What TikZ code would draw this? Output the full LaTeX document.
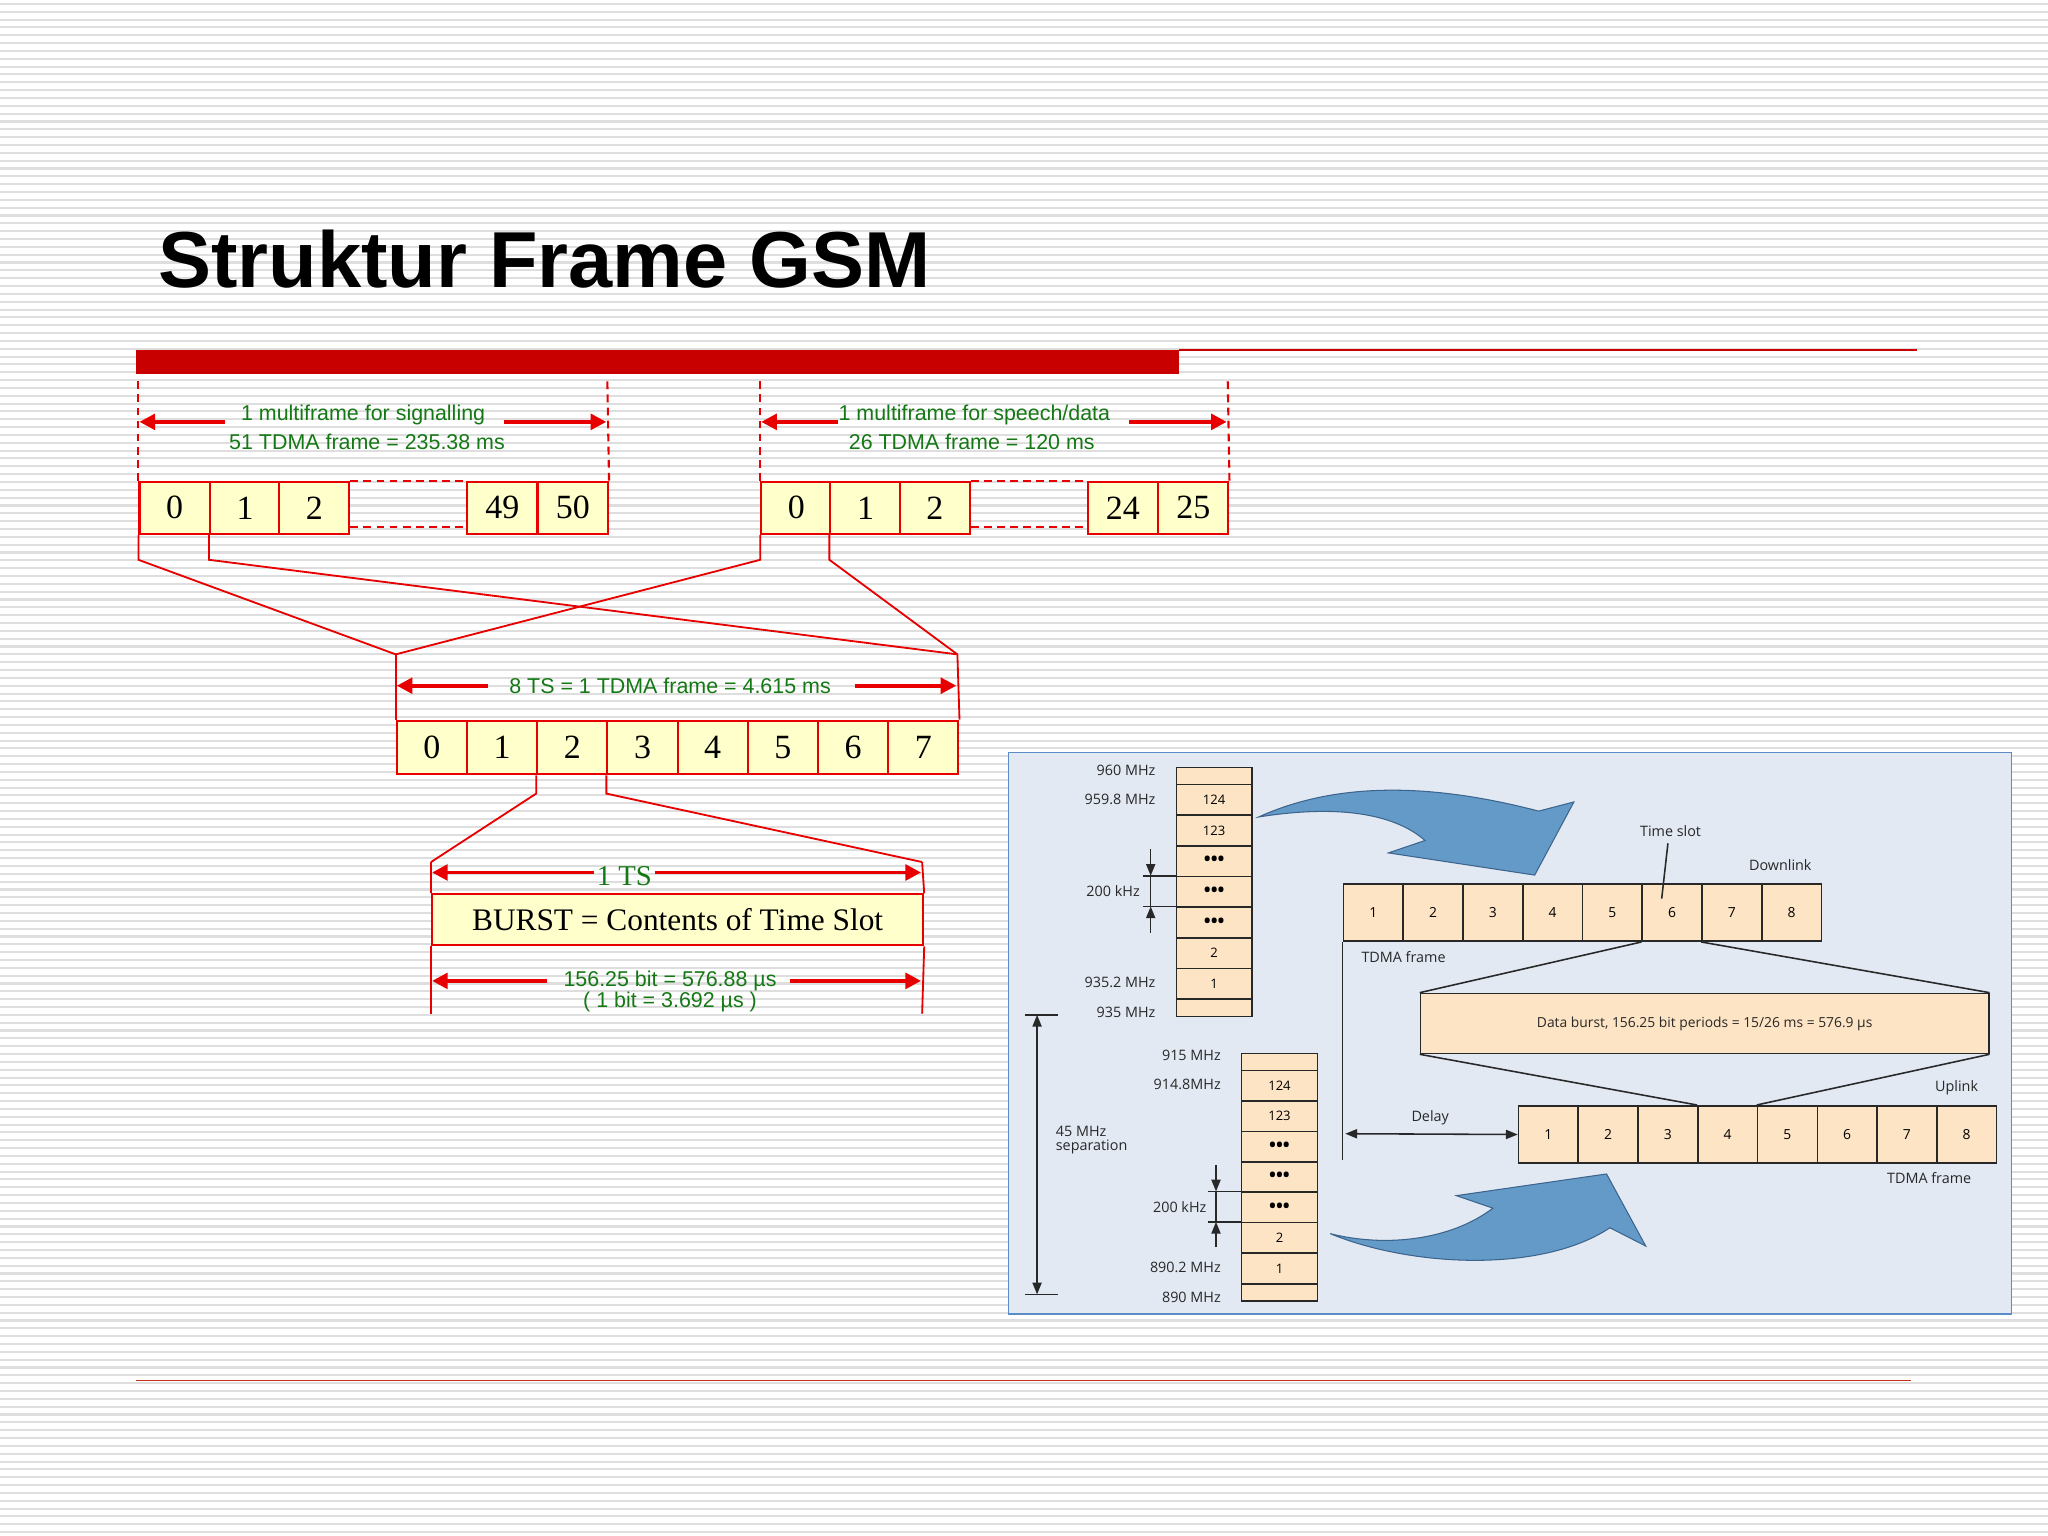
\documentclass[tikz,border=0pt]{standalone}
\usepackage{fontspec}
\setmainfont{Liberation Sans}
\newfontfamily\tnr{Liberation Serif}
\newfontfamily\pan{Open Sans}
\usetikzlibrary{arrows.meta}
\definecolor{gsmred}{RGB}{232,0,0}
\definecolor{barred}{RGB}{200,0,0}
\definecolor{cellyel}{RGB}{255,255,204}
\definecolor{gtext}{RGB}{20,120,20}
\definecolor{panbg}{RGB}{226,233,243}
\definecolor{panedge}{RGB}{90,140,200}
\definecolor{peach}{RGB}{253,228,196}
\definecolor{bluearr}{RGB}{100,154,200}
\definecolor{bluedark}{RGB}{60,100,140}
\definecolor{txtgray}{RGB}{40,40,40}
\tikzset{
 stripe/.style={draw=black!13,line width=0.8pt},
 cell/.style={draw=gsmred,fill=cellyel,line width=0.8pt,minimum width=26.85pt,minimum height=20pt,inner sep=0pt,anchor=north west,font=\tnr\fontsize{13}{13}\selectfont},
 tcell/.style={cell,minimum width=26.875pt,minimum height=20.5pt},
 redline/.style={draw=gsmred,line width=0.7pt},
 reddash/.style={draw=gsmred,line width=0.8pt,dash pattern=on 3pt off 2pt},
 redarrow/.style={draw=gsmred,line width=1.4pt,-{Triangle[length=6pt,width=6pt]},shorten >=0.4pt},
 gtxt/.style={text=gtext,font=\fontsize{8.2}{8.6}\selectfont,inner sep=1pt,align=center},
 fcell/.style={draw=txtgray,fill=peach,line width=0.6pt,minimum width=29pt,minimum height=11.7pt,inner sep=0pt,anchor=north west,font=\pan\fontsize{5}{5}\selectfont},
 fblank/.style={fcell,minimum height=6.5pt},
 scell/.style={draw=txtgray,fill=peach,line width=0.6pt,minimum width=22.875pt,minimum height=22pt,inner sep=0pt,anchor=north west,font=\pan\fontsize{5.3}{5.3}\selectfont},
 ptxt/.style={text=txtgray,font=\pan\fontsize{5.5}{5.8}\selectfont,inner sep=0.5pt},
 blk/.style={draw=txtgray,line width=0.6pt},
 blkarr/.style={blk,-{Triangle[length=4.5pt,width=3.5pt]}},
 bluearrow/.style={fill=bluearr,draw=bluedark,line width=0.4pt}
}
\newcommand{\dotsrow}{{\fontsize{7}{7}\selectfont\bfseries •••}}
\begin{document}
\begin{tikzpicture}[x=0.5pt,y=-0.5pt]
\useasboundingbox (0,0) rectangle (1568,1176);
\fill[white] (0,0) rectangle (1568,1176);
\foreach \y in {3,9,...,1176} \draw[stripe] (0,\y) -- (1568,\y);
% title and bars
\node[anchor=base west,inner sep=0pt,font=\bfseries\fontsize{30.4}{30.4}\selectfont] (title) at (121,220) {Struktur Frame GSM};
\fill[barred] (104,268) rectangle (903,286);
\draw[barred,line width=0.7pt] (903,268) -- (1468,268);
\draw[draw=barred!60!brown,line width=0.5pt] (104,1057) -- (1463,1057);
% multiframes
\foreach \i/\x/\t in {0/106/0,1/160/1,2/213/2,3/357/49,4/411/50} \node[cell] (L\i) at (\x,368) {\t};
\foreach \i/\x/\t in {0/582/0,1/635/1,2/688/2,3/832/24,4/886/25} \node[cell] (S\i) at (\x,368) {\t};
\draw[reddash] (L2.north east) -- (L3.north west);
\draw[reddash] ([yshift=3pt]L2.south east) -- ([yshift=3pt]L3.south west);
\draw[reddash] (S2.north east) -- (S3.north west);
\draw[reddash] ([yshift=3pt]S2.south east) -- ([yshift=3pt]S3.south west);
\coordinate (La) at (106,292); \coordinate (Lb) at (465,292);
\coordinate (Sa) at (582,292); \coordinate (Sb) at (940,292);
\draw[reddash] (L0.north west) -- (La); \draw[reddash] (L4.north east) -- (Lb);
\draw[reddash] (S0.north west) -- (Sa); \draw[reddash] (S4.north east) -- (Sb);
\node[gtxt] (m1) at (278,318) {1 multiframe for signalling};
\node[gtxt] (m2) at (281,338) {51 TDMA frame = 235.38 ms};
\draw[redarrow] ([xshift=-5pt,yshift=-2.5pt]m1.west) -- (La |- 0,323);
\draw[redarrow] ([xshift=6pt,yshift=-2.5pt]m1.east) -- (Lb |- 0,323);
\node[gtxt] (n1) at (746,318) {1 multiframe for speech/data};
\node[gtxt] (n2) at (744,338) {26 TDMA frame = 120 ms};
\draw[redarrow] ([xshift=1pt,yshift=-2.5pt]n1.west) -- (Sa |- 0,323);
\draw[redarrow] ([xshift=6pt,yshift=-2.5pt]n1.east) -- (Sb |- 0,323);
% TDMA frame
\foreach \i in {0,...,7} \node[tcell] (T\i) at ({303+53.75*\i},551) {\i};
\coordinate (tl) at (303,501); \coordinate (tr) at (733,501);
\draw[redline] (L0.south west) -- ++(0,19) -- (tl);
\draw[redline] (L1.south west) -- ++(0,19) -- (tr);
\draw[redline] (S0.south west) -- ++(0,19) -- (tl);
\draw[redline] (S1.south west) -- ++(0,19) -- (tr);
\draw[redline] (T0.north west) -- (tl);
\draw[redline] (T7.north east) -- (tr);
\node[gtxt] (td) at (513,525) {8 TS = 1 TDMA frame = 4.615 ms};
\draw[redarrow] ([xshift=-7pt]td.west) -- (tl |- td.west);
\draw[redarrow] ([xshift=8pt]td.east) -- (tr |- td.east);
% burst
\coordinate (bl) at (330,660); \coordinate (br) at (706,660);
\draw[redline] (T2.south west) -- ++(0,14) -- (bl);
\draw[redline] (T3.south west) -- ++(0,14) -- (br);
\node[cell,minimum width=188pt,minimum height=19.5pt,font=\tnr\fontsize{12}{12}\selectfont] (B) at (330,684) {BURST = Contents of Time Slot};
\coordinate (bbl) at (330,776); \coordinate (bbr) at (706,776);
\draw[redline] (bl) -- (B.north west); \draw[redline] (br) -- (B.north east);
\draw[redline] (B.south west) -- (bbl); \draw[redline] (B.south east) -- (bbr);
\node[text=gtext,font=\tnr\fontsize{11}{11}\selectfont,inner sep=1pt] (ts) at (478,671) {1 TS};
\draw[redarrow] ([yshift=1.5pt]ts.west) -- (bl |- 0,668);
\draw[redarrow] ([yshift=1.5pt]ts.east) -- (br |- 0,668);
\node[gtxt] (ba) at (513,751) {156.25 bit = 576.88 µs};
\node[gtxt] (bb) at (513,767) {( 1 bit = 3.692 µs )};
\draw[redarrow] ([xshift=-5pt]ba.west) -- (bl |- ba.west);
\draw[redarrow] ([xshift=4pt]ba.east) -- (br |- ba.east);
% right panel
\draw[fill=panbg,draw=panedge,line width=0.6pt] (772,576) rectangle (1540,1006);
\path[bluearrow] (963.6,625.5) .. controls (1020,600) and (1090,598) .. (1178,621) -- (1205,614) -- (1175,670) -- (1063,653) -- (1091,643.5) .. controls (1070,625) and (1030,615) .. (963.6,625.5) -- cycle;
\path[bluearrow] (1018.4,944.5) .. controls (1080,970) and (1180,975) .. (1232.6,940) -- (1260,954) -- (1230,898.8) -- (1115,915.4) -- (1143,925) .. controls (1110,950) and (1060,955) .. (1018.4,944.5) -- cycle;
% upper frequency column
\node[fblank] (U0) at (900,587) {};
\foreach \i/\y/\t in {1/600/124,2/623.5/123,3/647/\dotsrow,4/670.5/\dotsrow,5/694/\dotsrow,6/717.5/2,7/741/1} \node[fcell] (U\i) at (900,\y) {\t};
\node[fblank] (U8) at (900,764.5) {};
\node[ptxt,anchor=east] (u1) at (886,590) {960 MHz};
\node[ptxt,anchor=east] (u2) at (886,612) {959.8 MHz};
\node[ptxt,anchor=east] (u3) at (874,682) {200 kHz};
\node[ptxt,anchor=east] (u4) at (886,752) {935.2 MHz};
\node[ptxt,anchor=east] (u5) at (886,775) {935 MHz};
\coordinate (ua) at (875,670.5); \coordinate (ub) at (875,694);
\draw[blk] (ua) -- (U4.north west); \draw[blk] (ub) -- (U5.north west);
\coordinate (uat) at (881,650); \coordinate (ubt) at (881,714);
\draw[blkarr] (uat) -- (ua -| uat); \draw[blk] (ua -| uat) -- (ub -| uat);
\draw[blkarr] (ubt) -- (ub -| ubt);
% lower frequency column
\node[fblank] (D0) at (950,806) {};
\foreach \i/\y/\t in {1/819/124,2/842.3/123,3/865.6/\dotsrow,4/888.9/\dotsrow,5/912.2/\dotsrow,6/935.5/2,7/958.8/1} \node[fcell] (D\i) at (950,\y) {\t};
\node[fblank] (D8) at (950,982.4) {};
\node[ptxt,anchor=east] (d1) at (936,808) {915 MHz};
\node[ptxt,anchor=east] (d2) at (936,830) {914.8MHz};
\node[ptxt,anchor=east] (d3) at (925,924) {200 kHz};
\node[ptxt,anchor=east] (d4) at (936,970) {890.2 MHz};
\node[ptxt,anchor=east] (d5) at (936,993) {890 MHz};
\coordinate (da) at (925,912.2); \coordinate (db) at (925,935.5);
\draw[blk] (da) -- (D5.north west); \draw[blk] (db) -- (D6.north west);
\coordinate (dat) at (931,892); \coordinate (dbt) at (931,955);
\draw[blkarr] (dat) -- (da -| dat); \draw[blk] (da -| dat) -- (db -| dat);
\draw[blkarr] (dbt) -- (db -| dbt);
% 45 MHz separation
\coordinate (sa) at (794,777); \coordinate (sb) at (794,991);
\draw[blk] (785,777) -- (810,777); \draw[blk] (785,991) -- (810,991);
\draw[blk,{Triangle[length=4.5pt,width=3.5pt]}-{Triangle[length=4.5pt,width=3.5pt]}] (sa) -- (sb);
\node[ptxt,anchor=west,align=left,font=\pan\fontsize{5.5}{5.2}\selectfont] (sep) at (807,873) {45 MHz\\separation};
% downlink frame
\foreach \i in {1,...,8} \node[scell] (DL\i) at ({1028+45.75*(\i-1)},676) {\i};
\node[ptxt] (dlk) at (1363,662) {Downlink};
\node[ptxt] (tsl) at (1279,636) {Time slot};
\draw[blk] ([xshift=-1pt,yshift=-2pt]tsl.south) -- ([xshift=-4pt,yshift=-6pt]DL6.north);
\node[ptxt,anchor=west] (tf1) at (1041,733) {TDMA frame};
\coordinate (vl) at (1028,888);
\draw[blk] (DL1.south west) -- (vl);
% data burst
\node[draw=txtgray,fill=peach,line width=0.6pt,minimum width=217.5pt,minimum height=23pt,inner sep=0pt,anchor=north west,font=\pan\fontsize{5.3}{5.3}\selectfont,text=txtgray] (DB) at (1087,760) {Data burst, 156.25 bit periods = 15/26 ms = 576.9 µs};
\draw[blk] (DL6.south west) -- (DB.north west);
\draw[blk] (DL7.south west) -- (DB.north east);
% uplink frame
\foreach \i in {1,...,8} \node[scell] (UL\i) at ({1162+45.75*(\i-1)},846) {\i};
\draw[blk] (DB.south west) -- (UL4.north west);
\draw[blk] (DB.south east) -- (UL5.north west);
\node[ptxt] (ulk) at (1498,833) {Uplink};
\node[ptxt] (tf2) at (1477,902) {TDMA frame};
\coordinate (dly) at (1030,868);
\draw[blk,{Triangle[length=4.5pt,width=3.5pt]}-{Triangle[length=4.5pt,width=3.5pt]}] (dly) -- (UL1.west);
\node[ptxt] (dlt) at (1095,856) {Delay};
\end{tikzpicture}
\end{document}
